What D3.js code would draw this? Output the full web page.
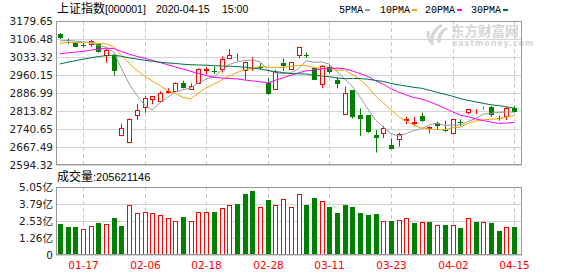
<!DOCTYPE html>
<html>
<head>
<meta charset="utf-8">
<script src="https://cdn.jsdelivr.net/npm/d3@7"></script>
<style>
  body { margin: 0; background: #fff; }
  svg { display: block; }
</style>
</head>
<body>
<svg id="chart" width="578" height="276"></svg>
<script>
// Trading days shown on the chart
const dates = ['01-14','01-15','01-16','01-17','01-20','01-21','01-22','01-23','02-03','02-04',
  '02-05','02-06','02-07','02-10','02-11','02-12','02-13','02-14','02-17','02-18',
  '02-19','02-20','02-21','02-24','02-25','02-26','02-27','02-28','03-02','03-03',
  '03-04','03-05','03-06','03-09','03-10','03-11','03-12','03-13','03-16','03-17',
  '03-18','03-19','03-20','03-23','03-24','03-25','03-26','03-27','03-30','03-31',
  '04-01','04-02','04-03','04-07','04-08','04-09','04-10','04-13','04-14','04-15'];
const tickDates = ['01-17','02-06','02-18','02-28','03-11','03-23','04-02','04-15'];

// Daily prices
const open = [3126,3101,3091,3083,3085,3085,3041,3041,2717,2686,2796,2829,2861,2858,2893,2896,2929,2902,2926,2982,
  2978,2987,3028,3035,2981,2985,2994,2926,2902,3008,2984,3041,3043,2990,2924,2991,2940,2802,2899,2798,
  2798,2716,2726,2676,2703,2778,2767,2794,2744,2764,2738,2723,2768,2807,2813,2824,2829,2786,2794,2827];
const high = [3130,3108,3093,3090,3102,3087,3066,3048,2762,2784,2842,2875,2874,2894,2906,2930,2937,2926,2987,2992,
  2995,3035,3066,3048,3014,3032,3008,2947,2981,3028,3013,3073,3052,2991,3000,3000,2951,2913,2899,2825,
  2798,2737,2753,2703,2725,2790,2790,2807,2752,2770,2774,2782,2780,2822,2821,2831,2834,2795,2830,2834];
const low = [3106,3086,3073,3072,3075,3050,3010,2957,2716,2685,2777,2807,2841,2852,2885,2892,2906,2899,2926,2962,
  2965,2970,3024,3018,2943,2977,2983,2880,2901,2977,2983,3028,3030,2940,2906,2966,2906,2798,2783,2713,
  2725,2645,2703,2658,2669,2760,2752,2770,2723,2736,2729,2722,2752,2801,2801,2820,2790,2774,2777,2810];
const close = [3108,3099,3075,3081,3097,3054,3061,2977,2745,2781,2817,2866,2873,2889,2896,2927,2909,2916,2983,2985,
  2976,3027,3041,3037,3013,2987,2992,2881,2971,2994,3012,3072,3041,2943,2997,2969,2923,2887,2789,2780,
  2729,2702,2746,2660,2722,2781,2770,2772,2747,2750,2735,2781,2765,2821,2815,2826,2797,2783,2827,2811];
const prevClose = 3115.6; // close of the day before the first bar

// Moving averages
const ma5 = [3098,3101,3098,3095,3091,3080,3073,3053,2987,2924,2877,2838,2818,2847,2870,2892,2900,2908,2927,2944,
  2953,2978,3003,3013,3019,3021,3014,2982,2969,2965,2969,2986,3018,3012,3013,3004,2974,2944,2913,2870,
  2822,2777,2749,2723,2712,2722,2735,2742,2758,2764,2755,2757,2756,2771,2783,2801,2805,2808,2810,2809];
const ma10 = [3088,3093,3092,3092,3093,3088,3087,3075,3041,3008,2979,2956,2936,2917,2897,2885,2869,2863,2887,2907,
  2923,2939,2956,2970,2981,2987,2995,2992,2990,2991,2995,2999,2999,2990,2988,2986,2980,2980,2962,2941,
  2912,2875,2847,2818,2791,2772,2756,2745,2741,2738,2738,2746,2748,2764,2773,2778,2781,2782,2790,2796];
const ma20 = [3046,3050,3053,3056,3061,3065,3069,3068,3056,3045,3036,3028,3020,3011,3002,2993,2984,2975,2966,2958,
  2951,2948,2946,2944,2940,2936,2933,2928,2939,2949,2959,2969,2977,2980,2985,2987,2988,2986,2976,2966,
  2954,2937,2923,2904,2890,2879,2868,2863,2851,2839,2825,2811,2797,2791,2782,2775,2769,2763,2765,2767];
const ma30 = [3005,3012,3018,3024,3030,3035,3039,3041,3036,3030,3025,3020,3016,3012,3009,3007,3004,3002,3001,3000,
  2998,2997,2996,2994,2992,2988,2985,2978,2974,2970,2966,2965,2964,2959,2956,2953,2948,2945,2946,2946,
  2943,2938,2934,2926,2920,2915,2910,2906,2898,2890,2882,2874,2864,2857,2851,2845,2839,2836,2831,2825];

// Volume in 亿
const volume = [2.30,2.08,2.08,1.93,2.13,2.38,2.28,2.75,2.15,3.69,3.09,3.17,3.09,2.95,2.72,2.50,2.82,2.50,3.17,3.17,
  3.19,3.49,3.69,3.79,4.53,4.75,3.54,4.11,3.69,4.16,3.54,4.50,3.71,4.23,3.99,3.56,3.12,3.71,3.56,3.12,
  2.97,3.04,2.50,2.52,2.58,2.72,2.38,2.43,2.45,2.20,2.23,2.20,2.00,2.72,2.45,2.43,2.38,1.78,2.06,2.05621146];

const priceTicks = [3179.65,3106.48,3033.32,2960.15,2886.99,2813.82,2740.65,2667.49,2594.32];
const volTicks = [5.05,3.79,2.53,1.26,0];
const maNames = ['5PMA','10PMA','20PMA','30PMA'];
const maSeries = [ma5, ma10, ma20, ma30];

const RED = '#ff0000', GREEN = '#008000';
const maColors = ['#999999','#f5a300','#ff00ff','#00703c'];
const legendX = [339, 380, 425, 471];

const svg = d3.select('#chart');
const L = 56, R = 522;

const x = d3.scaleBand().domain(dates).range([56, 518]);
const cx = d => Math.round(x(d) + x.bandwidth() / 2) + 0.5;
const y = d3.scaleLinear().domain([2594.32, 3179.65]).range([165, 21]);
const yv = d3.scaleLinear().domain([0, 5.05]).range([255, 187]);
const crisp = v => Math.round(v) + 0.5;

// Title
const title = svg.append('text').attr('y', 13).attr('fill', '#000');
title.append('tspan').attr('x', 57).style('font', '12px "Noto Sans CJK SC"').text('上证指数');
title.append('tspan').attr('x', 105).style('font', '10.5px "Liberation Sans"').text('[000001]');
title.append('tspan').attr('x', 156).style('font', '10.5px "Liberation Sans"').text('2020-04-15');
title.append('tspan').attr('x', 222).style('font', '10.5px "Liberation Sans"').text('15:00');

// Legend
const lg = svg.append('g').selectAll('g').data(maNames).enter().append('g')
  .attr('transform', (d, i) => `translate(${legendX[i]},0)`);
lg.append('text').attr('y', 12.5).style('font', '10px "Liberation Mono"').attr('fill', '#000').text(d => d);
lg.append('rect').attr('x', d => d.length * 6 + 2).attr('y', 9).attr('width', 5).attr('height', 2)
  .attr('fill', (d, i) => maColors[i]);

// Watermark
const wm = svg.append('g').attr('fill', '#d6d6d6');
wm.append('path').attr('d', 'M441,24 C433,28 428,36 431,45 L434,45 C432,37 436,30 443,26 Z');
wm.append('path').attr('d', 'M446,27 C439,31 436,37 438,43 L441,42 C440,37 443,32 448,29 Z');
wm.append('path').attr('d', 'M427,31 C426,35 427,40 430,44 L431,41 C429,38 429,34 430,31 Z');
wm.append('text').attr('x', 451).attr('y', 35.5).style('font', 'bold 13.5px "Noto Sans CJK SC"').text('东方财富网');
wm.append('text').attr('x', 452).attr('y', 46).style('font', 'bold 8px "DejaVu Sans"')
  .attr('letter-spacing', 0.9).text('eastmoney.com');

// Grid
const grid = svg.append('g');
grid.selectAll('.hp').data(priceTicks).enter().append('line')
  .attr('x1', L).attr('x2', R).attr('y1', d => crisp(y(d))).attr('y2', d => crisp(y(d)))
  .attr('stroke', '#d4d4d4');
grid.selectAll('.hv').data(volTicks).enter().append('line')
  .attr('x1', L).attr('x2', R).attr('y1', d => crisp(yv(d))).attr('y2', d => crisp(yv(d)))
  .attr('stroke', '#d4d4d4');
[[21, 165], [187, 255]].forEach(([t, b]) => {
  grid.append('g').selectAll('line').data(tickDates).enter().append('line')
    .attr('x1', d => cx(d)).attr('x2', d => cx(d)).attr('y1', t).attr('y2', b)
    .attr('stroke', '#c8c8c8').attr('stroke-dasharray', '4,3');
});

// Candles
const candles = svg.append('g').selectAll('g').data(dates).enter().append('g');
const up = i => close[i] >= open[i];
candles.append('line')
  .attr('x1', d => cx(d)).attr('x2', d => cx(d))
  .attr('y1', (d, i) => y(high[i])).attr('y2', (d, i) => y(low[i]))
  .attr('stroke', (d, i) => up(i) ? RED : GREEN);
candles.append('rect')
  .attr('x', (d, i) => up(i) ? cx(d) - 2 : cx(d) - 2.5)
  .attr('width', (d, i) => up(i) ? 4 : 5)
  .attr('y', (d, i) => Math.round(y(Math.max(open[i], close[i]))) + (up(i) ? 0.5 : 0))
  .attr('height', (d, i) => Math.max(up(i) ? 0 : 1, Math.round(y(Math.min(open[i], close[i])) - y(Math.max(open[i], close[i])))))
  .attr('fill', (d, i) => up(i) ? '#fff' : GREEN)
  .attr('stroke', (d, i) => up(i) ? RED : 'none');

// Moving average lines
const line = d3.line().x((v, i) => x(dates[i]) + x.bandwidth() / 2).y(v => y(v));
svg.append('g').selectAll('path').data(maSeries).enter().append('path')
  .attr('d', line).attr('fill', 'none').attr('stroke', (d, i) => maColors[i]).attr('stroke-width', 1);

// Volume bars: colour by close against previous close
const volUp = i => close[i] >= (i === 0 ? prevClose : close[i - 1]);
svg.append('g').selectAll('rect').data(dates).enter().append('rect')
  .attr('x', (d, i) => volUp(i) ? cx(d) - 2 : cx(d) - 2.5)
  .attr('width', (d, i) => volUp(i) ? 4 : 5)
  .attr('y', (d, i) => Math.round(yv(volume[i])) + (volUp(i) ? 0.5 : 0))
  .attr('height', (d, i) => Math.round(yv(0) - yv(volume[i])) - (volUp(i) ? 1 : 0))
  .attr('fill', (d, i) => volUp(i) ? '#fff' : GREEN)
  .attr('stroke', (d, i) => volUp(i) ? RED : 'none');

// Panel borders
svg.append('rect').attr('x', L + 0.5).attr('y', 21.5).attr('width', R - L - 1).attr('height', 143)
  .attr('fill', 'none').attr('stroke', '#999');
svg.append('rect').attr('x', L + 0.5).attr('y', 187.5).attr('width', R - L - 1).attr('height', 67)
  .attr('fill', 'none').attr('stroke', '#999');

// Axes labels
const pAxis = svg.append('g').attr('transform', `translate(${L},0)`)
  .call(d3.axisLeft(y).tickValues(priceTicks).tickFormat(d3.format('.2f')).tickSize(0).tickPadding(3));
const vAxis = svg.append('g').attr('transform', `translate(${L},0)`)
  .call(d3.axisLeft(yv).tickValues(volTicks).tickFormat(d => d === 0 ? '0' : d3.format('.2f')(d) + '亿').tickSize(0).tickPadding(3));
[pAxis, vAxis].forEach(a => {
  a.select('.domain').remove();
  a.selectAll('text').style('font', '10.5px "DejaVu Sans", "Noto Sans CJK SC"').attr('fill', '#222');
});

svg.append('text').attr('x', 57).attr('y', 181).attr('fill', '#000')
  .call(t => {
    t.append('tspan').style('font', '12px "Noto Sans CJK SC"').text('成交量');
    t.append('tspan').style('font', '11px "Liberation Sans"').text(':' + Math.round(volume[volume.length - 1] * 1e8));
  });

// Date labels
svg.append('g').selectAll('text').data(tickDates).enter().append('text')
  .attr('x', d => cx(d)).attr('y', 269).attr('text-anchor', 'middle')
  .style('font', '10.5px "DejaVu Sans"').attr('fill', RED).text(d => d);
</script>
</body>
</html>
